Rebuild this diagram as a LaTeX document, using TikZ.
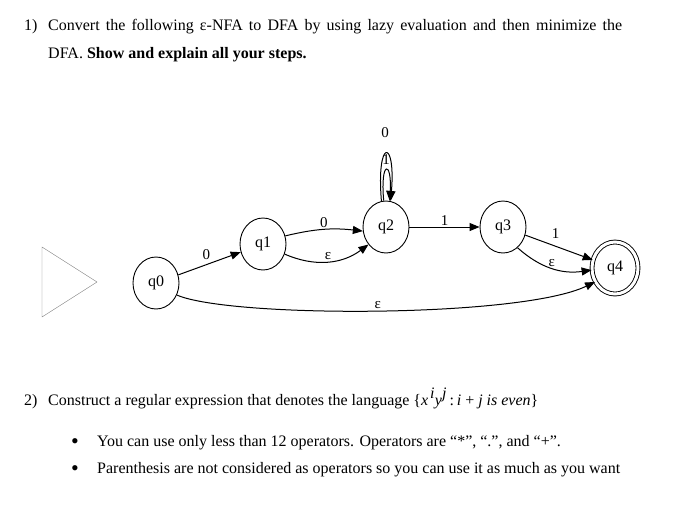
\documentclass[tikz,border=0pt]{standalone}
\usepackage{fontspec}
\setmainfont{Liberation Serif}
\usetikzlibrary{arrows.meta,shapes.geometric}
\begin{document}
\begin{tikzpicture}[x=1pt,y=-1pt,
  st/.style={draw,line width=0.9pt,ellipse,minimum width=46pt,minimum height=52pt,inner sep=0pt,font=\fontsize{16}{16}\selectfont},
  ar/.style={-{Triangle[length=10pt,width=8pt]},line width=1pt},
  lb/.style={font=\fontsize{15}{15}\selectfont,inner sep=1pt},
  tx/.style={anchor=base west,inner sep=0pt,font=\fontsize{16}{18}\selectfont}]
\useasboundingbox (0,0) rectangle (685,507);
\node[tx] (n1) at (24,30) {1)};
\node[tx] (t1) at (48,30) {\hbox to 574pt{Convert the following ε-NFA to DFA by using lazy evaluation and then minimize the}};
\node[tx] (t2) at (48,58) {DFA. \textbf{Show and explain all your steps.}};
\node[tx] (n2) at (24,405) {2)};
\node[tx] (t3) at (48,405) {Construct a regular expression that denotes the language \{\textit{x}$^{\,\textit{i}}$\textit{y}$^{\textit{j}}$\,:\,\textit{i} + \textit{j is even}\}};
\node[tx,font=\fontsize{22}{18}\selectfont] (b1) at (71,448) {\textbullet};
\node[tx] (t4) at (97,446) {You can use only less than 12 operators. Operators are “*”, “.”, and “+”.};
\node[tx,font=\fontsize{22}{18}\selectfont] (b2) at (71,475) {\textbullet};
\node[tx] (t5) at (97,473) {Parenthesis are not considered as operators so you can use it as much as you want};
\draw[gray] (42,247) -- (42,317) -- (97,282) -- cycle;
\node[st] (q0) at (156,283) {q0};
\node[st] (q1) at (263,244) {q1};
\node[st] (q2) at (386,227) {q2};
\node[st] (q3) at (503,227) {q3};
\node[st,double,double distance=3pt] (q4) at (615,268) {q4};
\draw[ar] (q0) -- node[lb,above,pos=0.45,yshift=3pt]{0} (q1);
\draw[ar] (q1.20) to[bend left=10] node[lb,above]{0} (q2.190);
\draw[ar] (q1.-25) to[bend right=30] node[lb,above]{ε} (q2.-135);
\draw[ar] (q2) -- node[lb,above]{1} (q3);
\draw[ar] (q3.-20) -- node[lb,above,pos=0.45,yshift=6pt]{1} (q4.160);
\draw[ar] (q3.-55) to[bend right=25] node[lb,above]{ε} (q4.185);
\draw[ar] (q0.-30) .. controls (230,318) and (520,318) .. node[lb,above,pos=0.5]{ε} (q4.-145);
\draw[ar] (q2.100) .. controls (376,138) and (396,138) .. (q2.80);
\draw[ar] (q2.95) .. controls (380,160) and (392,160) .. (q2.82);
\node[lb] (l0) at (385,133) {0};
\node[lb] (l1) at (386,160) {1};
\end{tikzpicture}
\end{document}
